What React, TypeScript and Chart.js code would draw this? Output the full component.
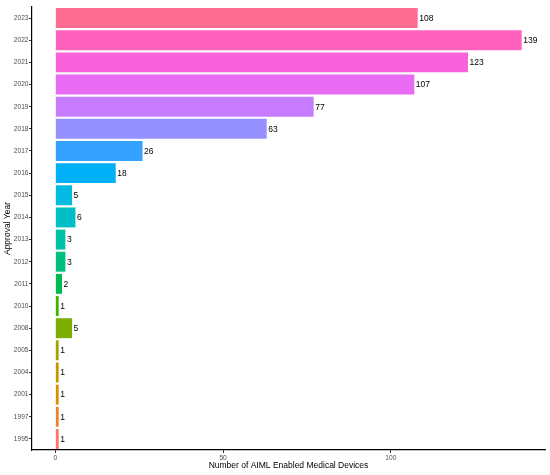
import React, { useEffect, useRef } from "react";
import { Chart, registerables } from "chart.js";

Chart.register(...registerables);

const years = ["1995", "1997", "2001", "2004", "2005", "2008", "2010", "2011", "2012", "2013", "2014", "2015", "2016", "2017", "2018", "2019", "2020", "2021", "2022", "2023"];
const devices = [1, 1, 1, 1, 1, 5, 1, 2, 3, 3, 6, 5, 18, 26, 63, 77, 107, 123, 139, 108];
const barColors = ["#F8766D", "#EA8331", "#D89000", "#C09B00", "#A3A500", "#7CAE00", "#39B600", "#00BB4E", "#00BF7D", "#00C1A3", "#00BFC4", "#00BAE0", "#00B0F6", "#35A2FF", "#9590FF", "#C77CFF", "#E76BF3", "#FA62DB", "#FF62BC", "#FF6C91"];
const xTicks = [0, 50, 100];
const xTitle = "Number of AIML Enabled Medical Devices";
const yTitle = "Approval Year";

const FONT = "'Liberation Sans', Arial, Helvetica, sans-serif";

const valueLabels = {
  id: "valueLabels",
  afterDatasetsDraw(chart: any) {
    const ctx = chart.ctx;
    const meta = chart.getDatasetMeta(0);
    const data = chart.data.datasets[0].data as number[];
    ctx.save();
    ctx.font = `8.5px ${FONT}`;
    ctx.fillStyle = "#000000";
    ctx.textAlign = "left";
    ctx.textBaseline = "middle";
    meta.data.forEach((el: any, i: number) => {
      ctx.fillText(String(data[i]), el.x + 1.5, el.y + 0.5);
    });
    ctx.restore();
  },
};

export default function App() {
  const ref = useRef<HTMLCanvasElement | null>(null);
  useEffect(() => {
    if (!ref.current) return;
    const maxV = Math.max(...devices);
    const pad = maxV * 0.05;
    const chart = new Chart(ref.current, {
      type: "bar",
      data: {
        labels: years,
        datasets: [
          {
            data: devices,
            backgroundColor: barColors,
            borderWidth: 0,
            categoryPercentage: 0.9,
            barPercentage: 1,
          },
        ],
      },
      options: {
        indexAxis: "y",
        responsive: false,
        animation: false,
        layout: { padding: { left: 0, right: 5, top: 7, bottom: 0 } },
        plugins: {
          legend: { display: false },
          tooltip: { enabled: false },
        },
        scales: {
          y: {
            type: "category",
            reverse: true,
            offset: true,
            afterFit: (s: any) => {
              s.width = 32;
            },
            grid: {
              display: true,
              offset: false,
              drawOnChartArea: false,
              drawTicks: true,
              tickLength: 3,
              color: "#333333",
            },
            border: { display: true, color: "#000000", width: 1.2 },
            ticks: {
              color: "#4D4D4D",
              font: { family: FONT, size: 6.6 },
              padding: 0.5,
              autoSkip: false,
            },
            title: {
              display: true,
              text: yTitle,
              color: "#000000",
              font: { family: FONT, size: 8.5 },
              padding: { top: 3, bottom: 0 },
            },
          },
          x: {
            type: "linear",
            min: -pad,
            max: maxV + pad,
            afterBuildTicks: (s: any) => {
              s.ticks = xTicks.map((v) => ({ value: v }));
            },
            afterFit: (s: any) => {
              s.height = 25;
            },
            grid: {
              display: true,
              drawOnChartArea: false,
              drawTicks: true,
              tickLength: 3,
              color: "#333333",
            },
            border: { display: true, color: "#000000", width: 1.2 },
            ticks: {
              color: "#4D4D4D",
              font: { family: FONT, size: 6.6 },
              padding: 1,
            },
            title: {
              display: true,
              text: xTitle,
              color: "#000000",
              font: { family: FONT, size: 8.5 },
              padding: { top: 0, bottom: 4 },
            },
          },
        },
      },
      plugins: [valueLabels],
    });
    return () => chart.destroy();
  }, []);
  return (
    <div style={{ position: "fixed", left: 0, top: 0, width: 550, height: 475, background: "#ffffff" }}>
      <canvas ref={ref} width={550} height={475} style={{ width: 550, height: 475, display: "block" }} />
    </div>
  );
}
